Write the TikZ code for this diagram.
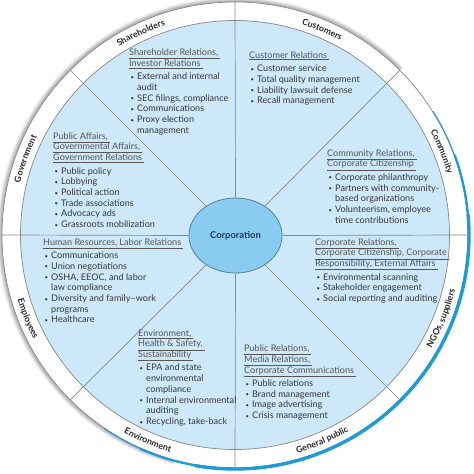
\documentclass[tikz,border=0pt]{standalone}
\usepackage{fontspec}
\setmainfont{Lato}
\usetikzlibrary{shapes.geometric,calc,decorations.text}
\definecolor{diskblue}{RGB}{204,232,249}
\definecolor{corpblue}{RGB}{138,204,241}
\definecolor{corpedge}{RGB}{92,128,148}
\definecolor{linegray}{RGB}{135,135,135}
\definecolor{txt}{RGB}{55,55,55}
\definecolor{hdgray}{RGB}{85,85,85}
\definecolor{rimblue}{RGB}{28,155,215}
\definecolor{navy}{RGB}{30,55,90}
\newcommand\hd[1]{{\color{hdgray}\underline{#1\hspace{2pt}}}}
\newcommand\bi{\hspace*{1.5pt}\makebox[6.5pt][l]{\raisebox{0.4pt}{\fontsize{6}{6}\selectfont •}}}
\newcommand\ci{\hspace*{8pt}}
\newcommand\rf{\bfseries\fontsize{8.8}{9}\selectfont}
\begin{document}
\begin{tikzpicture}[x=1pt,y=1pt,
  blk/.style={anchor=north west, inner sep=0pt, align=left, text=txt, font=\fontsize{9.1}{10.7}\selectfont},
  uplbl/.style={decorate, decoration={text along path, text align=center, text color=black!85, text={|\rf|#1}}},
  sep/.style={draw=linegray, line width=0.7pt},
  circ/.style={draw=linegray, line width=0.7pt}]
\useasboundingbox (-235,-239) rectangle (239,235);
\coordinate (C) at (0,0);
% shadow on the upper-left side
\foreach \r/\o in {231/0.10, 232.5/0.22, 234/0.28, 235.5/0.18, 237/0.08}
  \draw[black, opacity=\o, line width=1.5pt] (C) ++(45:\r) arc[start angle=45, end angle=255, radius=\r];
% ring and disk
\fill[white] (C) circle (233);
\draw[circ] (C) circle (233);
\fill[diskblue] (C) circle (214.5);
% blue rim
\draw[rimblue, line width=1pt] (C) ++(32:233.5) arc[start angle=32, end angle=-124, radius=233.5];
\draw[rimblue, line width=2.2pt] (C) ++(20:233.8) arc[start angle=20, end angle=-114, radius=233.8];
\draw[rimblue, line width=3.4pt] (C) ++(5:234) arc[start angle=5, end angle=-100, radius=234];
% corporation
\node[ellipse, draw=corpedge, line width=0.8pt, fill=corpblue, minimum width=93pt, minimum height=75pt, inner sep=0pt,
  font=\bfseries\fontsize{9.4}{10}\selectfont, text=navy] (corp) at (0.5,-0.5) {Corporation};
% separators
\foreach \a in {0,45,...,315} {
  \coordinate (o\a) at (\a:233);
  \draw[sep] (corp.\a) -- (o\a);
}
\draw[circ] (C) circle (214.5);
% ring labels (upper half: clockwise path, lower half: counter-clockwise path)
\path[uplbl={Shareholders}] (C) ++(137:221) arc[start angle=137, end angle=93, radius=221];
\path[uplbl={Customers}] (C) ++(89:221) arc[start angle=89, end angle=45, radius=221];
\path[uplbl={Community}] (C) ++(44:221) arc[start angle=44, end angle=0, radius=221];
\path[uplbl={Government}] (C) ++(182:221) arc[start angle=182, end angle=138, radius=221];
\path[uplbl={NGOs, suppliers}] (C) ++(-44:226.8) arc[start angle=-44, end angle=0, radius=226.8];
\path[uplbl={General public}] (C) ++(-89:226.8) arc[start angle=-89, end angle=-45, radius=226.8];
\path[uplbl={Environment}] (C) ++(-135:226.8) arc[start angle=-135, end angle=-91, radius=226.8];
\path[uplbl={Employees}] (C) ++(-180:226.8) arc[start angle=-180, end angle=-136, radius=226.8];
% text blocks
\node[blk] (bshare) at (-106,186.3) {\hd{Shareholder Relations,}\\ \hd{Investor Relations}\\[2.8pt]
 \bi External and internal\\ \ci audit\\ \bi SEC filings, compliance\\ \bi Communications\\ \bi Proxy election\\ \ci management};
\node[blk] (bcust) at (14,183.8) {\hd{Customer Relations}\\[2.8pt]
 \bi Customer service\\ \bi Total quality management\\ \bi Liability lawsuit defense\\ \bi Recall management};
\node[blk] (bcomm) at (92,85.8) {\hd{Community Relations,}\\ \hd{Corporate Citizenship}\\[2.8pt]
 \bi Corporate philanthropy\\ \bi Partners with community-\\ \ci based organizations\\ \bi Volunteerism, employee\\ \ci time contributions};
\node[blk] (bgov) at (-182,102.8) {\hd{Public Affairs,}\\ \hd{Governmental Affairs,}\\ \hd{Government Relations}\\[2.8pt]
 \bi Public policy\\ \bi Lobbying\\ \bi Political action\\ \bi Trade associations\\ \bi Advocacy ads\\ \bi Grassroots mobilization};
\node[blk] (bemp) at (-192,-3.2) {\hd{Human Resources, Labor Relations}\\[2.8pt]
 \bi Communications\\ \bi Union negotiations\\ \bi OSHA, EEOC, and labor\\ \ci law compliance\\ \bi Diversity and family–work\\ \ci programs\\ \bi Healthcare};
\node[blk] (benv) at (-97,-94.2) {\hd{Environment,}\\ \hd{Health \& Safety,}\\ \hd{Sustainability}\\[2.8pt]
 \bi EPA and state\\ \ci environmental\\ \ci compliance\\ \bi Internal environmental\\ \ci auditing\\ \bi Recycling, take-back};
\node[blk] (bngo) at (80,-3.2) {\hd{Corporate Relations,}\\ \hd{Corporate Citizenship, Corporate}\\ \hd{Responsibility, External Affairs}\\[2.8pt]
 \bi Environmental scanning\\ \bi Stakeholder engagement\\ \bi Social reporting and auditing};
\node[blk] (bgen) at (9,-109.7) {\hd{Public Relations,}\\ \hd{Media Relations,}\\ \hd{Corporate Communications}\\[2.8pt]
 \bi Public relations\\ \bi Brand management\\ \bi Image advertising\\ \bi Crisis management};
\end{tikzpicture}
\end{document}
